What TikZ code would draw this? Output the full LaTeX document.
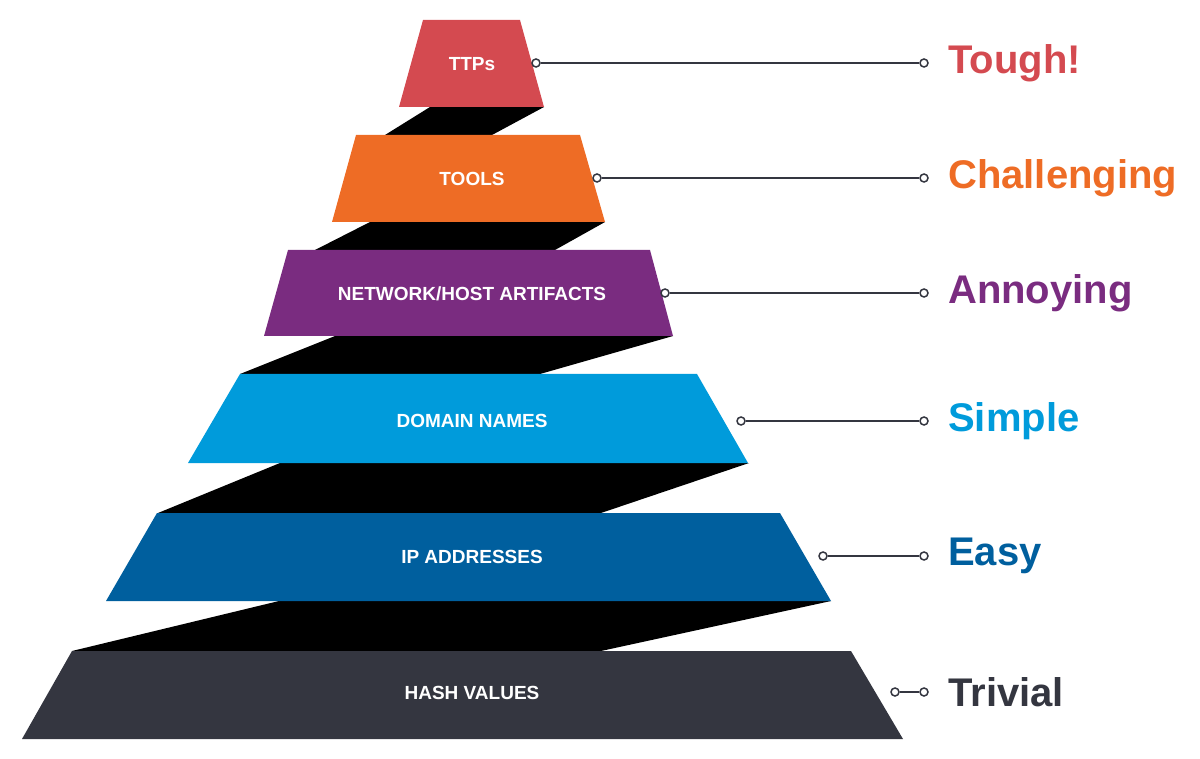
\documentclass[tikz,border=0pt]{standalone}
\usepackage{fontspec}
\setmainfont{Liberation Sans}
\definecolor{cRed}{HTML}{D44A50}
\definecolor{cOrange}{HTML}{EE6C25}
\definecolor{cPurple}{HTML}{7A2C80}
\definecolor{cSky}{HTML}{009BDB}
\definecolor{cBlue}{HTML}{005F9E}
\definecolor{cGray}{HTML}{343640}
\begin{document}
\begin{tikzpicture}[x=1pt,y=-1pt,
  band/.style={fill=black},
  layer/.style={},
  ltext/.style={text=white,font=\bfseries\fontsize{19}{22}\selectfont},
  dot/.style={circle,draw=cGray,line width=1.5pt,fill=white,inner sep=0pt,minimum size=8pt},
  lead/.style={draw=cGray,line width=1.6pt},
  lab/.style={anchor=west,font=\bfseries\fontsize{40}{44}\selectfont,inner sep=0pt}]
\useasboundingbox (0,0) rectangle (1200,759);
% bands
\fill[band] (430,107) -- (544,107) -- (492,135) -- (385,135) -- cycle;
\fill[band] (370,222) -- (605,222) -- (555,250) -- (315,250) -- cycle;
\fill[band] (335,336) -- (673,336) -- (540,374) -- (240,374) -- cycle;
\fill[band] (280,463) -- (749,463) -- (601,513) -- (158,513) -- cycle;
\fill[band] (279,601) -- (831,601) -- (601,651) -- (72,651) -- cycle;
% layers
\fill[cRed] (423,20) -- (520,20) -- (544,107) -- (399,107) -- cycle;
\fill[cOrange] (356,135) -- (580,135) -- (605,222) -- (332,222) -- cycle;
\fill[cPurple] (288,250) -- (650,250) -- (673,336) -- (264,336) -- cycle;
\fill[cSky] (240,374) -- (697,374) -- (748,463) -- (188,463) -- cycle;
\fill[cBlue] (157,513) -- (780,513) -- (831,601) -- (106,601) -- cycle;
\fill[cGray] (72,651) -- (851,651) -- (903,739) -- (22,739) -- cycle;
% layer texts
\node[ltext] (t1) at (472,64) {TTPs};
\node[ltext] (t2) at (472,179) {TOOLS};
\node[ltext] (t3) at (472,294) {NETWORK/HOST ARTIFACTS};
\node[ltext] (t4) at (472,421) {DOMAIN NAMES};
\node[ltext] (t5) at (472,557) {IP ADDRESSES};
\node[ltext] (t6) at (472,693) {HASH VALUES};
% leaders
\foreach \i/\xa/\y/\c/\t in {1/536/63/cRed/Tough!,2/597/178/cOrange/Challenging,3/665/293/cPurple/Annoying,4/741/421/cSky/Simple,5/823/556/cBlue/Easy,6/895/692/cGray/Trivial}{
  \node[dot] (a\i) at (\xa,\y) {};
  \node[dot] (b\i) at (924,\y) {};
  \draw[lead] (a\i) -- (b\i);
  \node[lab,text=\c] (l\i) at (948,\y) {\t};
}
\end{tikzpicture}
\end{document}
